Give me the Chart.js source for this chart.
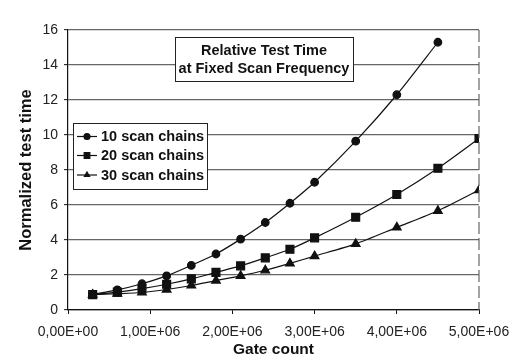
<!DOCTYPE html>
<html>
<head>
<meta charset="utf-8">
<script src="https://cdn.jsdelivr.net/npm/chart.js@4"></script>
<style>
  html, body { margin: 0; padding: 0; background: #fff; }
  #wrap { width: 526px; height: 360px; position: relative; }
</style>
</head>
<body>
<div id="wrap"><canvas id="c" width="526" height="360"></canvas></div>
<script>
// ---- data ----
const gateCounts = [0.3e6, 0.6e6, 0.9e6, 1.2e6, 1.5e6, 1.8e6, 2.1e6, 2.4e6, 2.7e6, 3.0e6, 3.5e6, 4.0e6, 4.5e6, 5.0e6];
const chains10 = [0.9, 1.15, 1.5, 1.95, 2.55, 3.2, 4.05, 5.0, 6.1, 7.3, 9.65, 12.3, 15.3, null];
const chains20 = [0.88, 1.02, 1.22, 1.47, 1.78, 2.15, 2.52, 2.98, 3.47, 4.12, 5.3, 6.6, 8.1, 9.8];
const chains30 = [0.88, 0.93, 1.0, 1.17, 1.4, 1.68, 1.95, 2.27, 2.66, 3.08, 3.78, 4.72, 5.67, 6.85];
const seriesLabels = ['10 scan chains', '20 scan chains', '30 scan chains'];
const xTickLabels = ['0,00E+00', '1,00E+06', '2,00E+06', '3,00E+06', '4,00E+06', '5,00E+06'];
const boxTitleLines = ['Relative Test Time', 'at Fixed Scan Frequency'];
const xTitle = 'Gate count';
const yTitle = 'Normalized test time';

const toPts = arr => gateCounts.map((x, i) => ({x: x, y: arr[i]})).filter(p => p.y !== null);

const mk = (label, arr, style, r) => ({
  label: label,
  data: toPts(arr),
  borderColor: '#111',
  backgroundColor: '#111',
  borderWidth: 1.2,
  pointStyle: style,
  pointRadius: r,
  pointHoverRadius: r,
  pointBackgroundColor: '#111',
  pointBorderColor: '#111',
  tension: 0.25,
  fill: false
});

const boxesPlugin = {
  id: 'boxes',
  afterDraw(chart) {
    const ctx = chart.ctx;
    const ca = chart.chartArea;
    ctx.save();
    // right dashed border
    ctx.strokeStyle = '#666';
    ctx.lineWidth = 1.2;
    ctx.setLineDash([12, 4]);
    ctx.beginPath();
    ctx.moveTo(ca.right, ca.top);
    ctx.lineTo(ca.right, ca.bottom);
    ctx.stroke();
    ctx.setLineDash([]);

    // title box
    const tb = {x: 175, y: 37, w: 178, h: 44};
    ctx.fillStyle = '#fff';
    ctx.fillRect(tb.x, tb.y, tb.w, tb.h);
    ctx.strokeStyle = '#222';
    ctx.lineWidth = 1;
    ctx.strokeRect(tb.x + 0.5, tb.y + 0.5, tb.w, tb.h);
    ctx.fillStyle = '#111';
    ctx.font = 'bold 14.5px "Liberation Sans", Arial, sans-serif';
    ctx.textAlign = 'center';
    ctx.textBaseline = 'middle';
    ctx.fillText(boxTitleLines[0], tb.x + tb.w / 2, 51);
    ctx.fillText(boxTitleLines[1], tb.x + tb.w / 2, 69);

    // legend box
    const lb = {x: 73, y: 123, w: 134, h: 66};
    ctx.fillStyle = '#fff';
    ctx.fillRect(lb.x, lb.y, lb.w, lb.h);
    ctx.strokeStyle = '#222';
    ctx.strokeRect(lb.x + 0.5, lb.y + 0.5, lb.w, lb.h);
    const rows = [136.5, 155.5, 175];
    chart.data.datasets.forEach((ds, i) => {
      const y = rows[i];
      ctx.strokeStyle = '#111';
      ctx.lineWidth = 1.2;
      ctx.beginPath();
      ctx.moveTo(77, y);
      ctx.lineTo(97, y);
      ctx.stroke();
      ctx.fillStyle = '#111';
      Chart.helpers.drawPoint(ctx, {pointStyle: ds.pointStyle, rotation: 0, radius: ds.pointStyle === 'rect' ? 4 : 3, borderWidth: 1}, 87, y);
      ctx.fillStyle = '#111';
      ctx.font = 'bold 14.5px "Liberation Sans", Arial, sans-serif';
      ctx.textAlign = 'left';
      ctx.textBaseline = 'middle';
      ctx.fillText(ds.label, 101, y + 0.5);
    });
    ctx.restore();
  }
};

new Chart(document.getElementById('c'), {
  type: 'line',
  data: {
    datasets: [
      mk(seriesLabels[0], chains10, 'circle', 3.8),
      mk(seriesLabels[1], chains20, 'rect', 5.6),
      mk(seriesLabels[2], chains30, 'triangle', 5)
    ]
  },
  options: {
    responsive: false,
    animation: false,
    devicePixelRatio: 1,
    layout: { padding: { left: 0, right: 47, top: 30, bottom: 0 } },
    plugins: { legend: { display: false }, title: { display: false }, tooltip: { enabled: false } },
    scales: {
      x: {
        type: 'linear',
        min: 0, max: 5e6,
        afterFit: s => { s.height = 50; },
        ticks: {
          stepSize: 1e6,
          padding: 10,
          maxRotation: 0,
          color: '#222',
          font: { family: '"Liberation Sans", Arial, sans-serif', size: 14 },
          callback: (v, i) => xTickLabels[i]
        },
        grid: { drawOnChartArea: false, drawTicks: true, tickLength: 4, tickColor: '#111', tickWidth: 1 },
        border: { display: true, color: '#111', width: 1.2 },
        title: { display: true, text: xTitle, color: '#111', padding: { top: 0, bottom: 1 },
          font: { family: '"Liberation Sans", Arial, sans-serif', size: 15.5, weight: 'bold' } }
      },
      y: {
        min: 0, max: 16,
        afterFit: s => { s.width = 68; },
        ticks: {
          stepSize: 2,
          padding: 6,
          color: '#222',
          font: { family: '"Liberation Sans", Arial, sans-serif', size: 14 }
        },
        grid: { color: '#666', lineWidth: 1.3, borderDash: [12, 4], tickLength: 4, tickColor: '#111', tickBorderDash: [], tickWidth: 1 },
        border: { display: true, color: '#111', width: 1.2 },
        title: { display: true, text: yTitle, color: '#111', padding: { top: 17, bottom: 0 },
          font: { family: '"Liberation Sans", Arial, sans-serif', size: 16.5, weight: 'bold' } }
      }
    }
  },
  plugins: [boxesPlugin]
});
</script>
</body>
</html>
